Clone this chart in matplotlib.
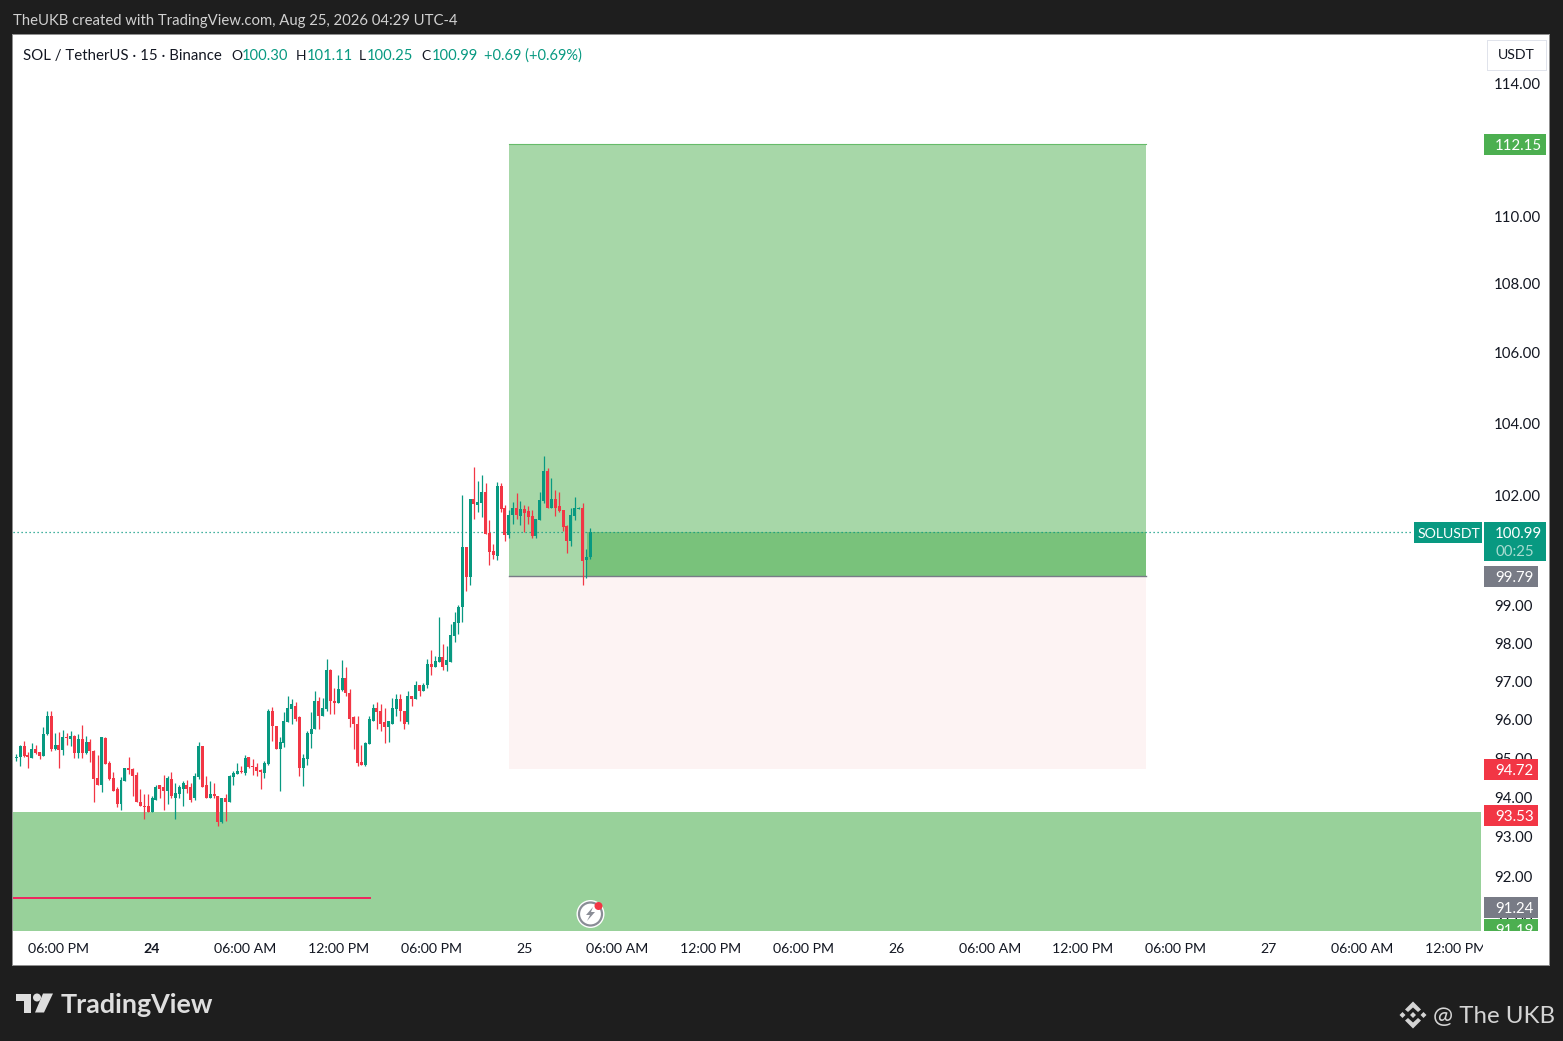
"""SOL/USDT 15m TradingView snapshot with a long position box."""

import matplotlib

matplotlib.use("Agg")

import matplotlib.pyplot as plt
import numpy as np
from matplotlib.patches import Circle, Polygon, Rectangle
from matplotlib.transforms import Bbox, IdentityTransform

WIDTH, HEIGHT = 1563, 1041
FONT = "Lato"

opens = [
    95.01, 95.02, 95.30, 95.06, 95.01, 95.24, 95.16, 95.05, 95.61, 96.10,
    95.24, 95.35, 95.22, 95.55, 95.50, 95.58, 95.14, 95.48, 95.14, 95.42,
    95.19, 94.50, 94.32, 95.53, 94.88, 94.50, 94.20, 93.84, 94.42, 94.75,
    94.73, 94.57, 93.87, 93.77, 93.77, 93.62, 93.94, 94.30, 94.25, 94.17,
    94.47, 93.99, 94.09, 94.22, 94.32, 94.25, 93.97, 94.52, 95.32, 94.30,
    93.99, 94.09, 94.04, 93.36, 93.97, 93.89, 94.51, 94.59, 94.67, 94.61,
    95.03, 94.80, 94.77, 94.69, 94.61, 94.85, 96.23, 95.84, 95.24, 95.40,
    95.92, 96.26, 96.36, 96.05, 94.75, 94.98, 95.63, 95.74, 96.47, 96.08,
    96.26, 97.30, 96.49, 96.42, 96.76, 97.07, 96.70, 96.05, 95.89, 94.90,
    94.82, 95.37, 95.97, 96.29, 96.21, 95.92, 95.79, 95.89, 96.26, 96.52,
    96.21, 95.92, 96.60, 96.52, 96.89, 96.73, 96.89, 97.46, 97.38, 97.49,
    97.64, 97.42, 97.50, 98.18, 98.53, 98.96, 100.57, 99.76, 101.89, 101.72,
    101.78, 102.08, 100.95, 100.46, 100.33, 102.25, 101.64, 100.90, 101.45, 101.66,
    101.42, 101.61, 101.56, 101.42, 100.87, 101.31, 101.83, 102.66, 101.66, 101.89,
    101.69, 101.58, 101.15, 100.74, 101.42, 101.61, 101.66, 100.22, 100.30,
]
highs = [
    95.11, 95.35, 95.45, 95.15, 95.40, 95.35, 95.16, 95.79, 96.21, 96.23,
    95.66, 95.67, 95.73, 95.66, 95.71, 95.60, 95.63, 95.86, 95.58, 95.50,
    95.22, 95.09, 95.55, 95.55, 94.93, 94.65, 94.27, 94.52, 94.75, 95.04,
    94.75, 94.65, 94.22, 94.07, 94.09, 94.04, 94.30, 94.32, 94.57, 94.55,
    94.65, 94.35, 94.32, 94.42, 94.45, 94.35, 94.62, 95.42, 95.32, 94.55,
    94.42, 94.37, 94.04, 93.97, 94.09, 94.57, 94.67, 94.88, 94.80, 95.08,
    95.03, 94.98, 94.88, 94.72, 94.93, 96.28, 96.31, 95.84, 95.54, 96.18,
    96.62, 96.52, 96.44, 96.08, 95.11, 95.69, 96.18, 96.73, 96.57, 96.55,
    97.59, 97.33, 96.83, 97.15, 97.56, 97.38, 96.78, 96.10, 96.10, 95.35,
    95.42, 96.08, 96.39, 96.44, 96.39, 96.29, 95.97, 96.55, 96.65, 96.65,
    96.21, 96.75, 96.60, 96.99, 96.91, 96.96, 97.59, 97.83, 97.67, 98.69,
    97.98, 97.92, 98.50, 98.82, 99.01, 102.00, 100.57, 101.89, 102.78, 102.39,
    102.55, 102.33, 101.31, 100.66, 102.36, 102.33, 101.72, 101.58, 101.80, 102.05,
    101.83, 101.72, 101.69, 101.58, 101.34, 102.08, 103.08, 102.75, 102.47, 102.14,
    102.08, 101.58, 101.17, 101.66, 101.94, 101.67, 101.78, 100.52, 101.11,
]
lows = [
    94.93, 94.81, 95.04, 94.75, 94.99, 95.11, 94.98, 95.05, 95.60, 95.17,
    95.22, 94.75, 95.09, 95.35, 95.30, 94.99, 95.01, 95.01, 95.11, 94.91,
    93.87, 94.32, 94.14, 94.86, 94.45, 94.17, 93.74, 93.67, 94.42, 94.60,
    94.02, 93.87, 93.77, 93.46, 93.62, 93.62, 93.94, 93.97, 93.67, 93.84,
    93.97, 93.46, 93.99, 93.79, 94.12, 93.87, 93.94, 94.47, 94.27, 93.99,
    93.99, 93.99, 93.26, 93.34, 93.41, 93.89, 94.30, 94.59, 94.61, 94.56,
    94.75, 94.56, 94.54, 94.22, 94.48, 94.82, 95.45, 95.24, 94.15, 95.29,
    95.92, 95.87, 95.95, 94.54, 94.28, 94.82, 95.27, 95.74, 95.74, 96.08,
    96.23, 96.15, 96.15, 96.42, 96.73, 96.60, 95.79, 95.24, 94.80, 94.82,
    94.80, 95.37, 95.95, 95.74, 95.71, 95.40, 95.42, 95.87, 96.08, 95.97,
    95.74, 95.87, 96.34, 96.52, 96.60, 96.73, 96.83, 97.17, 97.38, 97.49,
    97.30, 97.27, 97.50, 98.02, 98.24, 98.56, 99.39, 99.55, 101.36, 101.53,
    101.39, 100.93, 100.09, 100.25, 100.22, 101.53, 100.74, 100.84, 101.20, 101.36,
    101.17, 100.98, 101.20, 100.82, 100.82, 101.31, 101.78, 101.66, 101.66, 101.42,
    101.53, 101.01, 100.41, 100.60, 101.31, 101.61, 99.55, 99.73, 100.25,
]
closes = [
    95.04, 95.30, 95.05, 95.04, 95.24, 95.14, 95.05, 95.63, 96.10, 95.24,
    95.35, 95.22, 95.55, 95.51, 95.58, 95.14, 95.48, 95.14, 95.42, 95.17,
    94.47, 94.32, 95.54, 94.86, 94.47, 94.17, 93.84, 94.45, 94.75, 94.70,
    94.55, 93.87, 93.77, 93.74, 93.62, 93.97, 94.27, 94.22, 94.17, 94.50,
    94.02, 94.12, 94.27, 94.35, 94.22, 93.94, 94.55, 95.32, 94.27, 93.99,
    94.09, 94.02, 93.36, 93.97, 93.89, 94.55, 94.61, 94.67, 94.64, 95.01,
    94.77, 94.77, 94.67, 94.64, 94.88, 96.23, 95.82, 95.24, 95.42, 95.97,
    96.29, 96.39, 96.02, 94.75, 95.01, 95.66, 95.76, 96.49, 96.08, 96.29,
    97.30, 96.47, 96.42, 96.78, 97.07, 96.70, 96.02, 95.89, 94.88, 94.82,
    95.40, 96.00, 96.29, 96.18, 95.89, 95.79, 95.95, 96.29, 96.52, 96.21,
    95.89, 96.60, 96.52, 96.89, 96.73, 96.91, 97.46, 97.38, 97.54, 97.64,
    97.38, 97.55, 98.21, 98.56, 98.96, 100.57, 99.76, 101.89, 101.75, 101.80,
    102.08, 100.93, 100.44, 100.36, 102.25, 101.61, 100.90, 101.45, 101.66, 101.45,
    101.61, 101.50, 101.39, 100.87, 101.34, 101.86, 102.66, 101.66, 101.89, 101.66,
    101.56, 101.12, 100.74, 101.45, 101.66, 101.66, 100.19, 100.30, 100.99,
]

price_ticks = [114, 110, 108, 106, 104, 102, 99, 98, 97, 96, 95, 94, 93, 92, 91]
time_positions = [11, 35, 59, 83, 107, 131, 155, 179, 203, 227, 251, 275, 299, 323, 347, 371]
time_labels = [
    "06:00 PM", "24", "06:00 AM", "12:00 PM", "06:00 PM", "25", "06:00 AM", "12:00 PM",
    "06:00 PM", "26", "06:00 AM", "12:00 PM", "06:00 PM", "27", "06:00 AM", "12:00 PM",
]

last_price = 100.99
entry, target, stop = 99.79, 112.15, 94.72
zone_top = 93.62
level_line = 91.47

GREEN = "#089981"
RED = "#f23645"
INK = "#131722"
BG = "#1e1e1e"
SCALE_SIZE = 10.8
TIME_SIZE = 10.2


def frac_rect(x0, y0, x1, y1):
    """Pixel box (top-left origin) to figure fractions."""
    return x0 / WIDTH, 1 - y1 / HEIGHT, (x1 - x0) / WIDTH, (y1 - y0) / HEIGHT


def px_box(fig, x0, y0, x1, y1, color, zorder=5):
    left, bottom, w, h = frac_rect(x0, y0, x1, y1)
    fig.add_artist(Rectangle((left, bottom), w, h, transform=fig.transFigure, fc=color, ec="none", zorder=zorder))


def px_text(fig, x, y, s, color=INK, size=SCALE_SIZE, ha="left", zorder=6, **kwargs):
    # Lato sits a little high with va=center
    return fig.text(x / WIDTH, 1 - (y + 1.7) / HEIGHT, s, color=color, fontsize=size, ha=ha, va="center",
                    family=FONT, zorder=zorder, **kwargs)


def px_poly(fig, pts, color, zorder=6):
    xy = [(x / WIDTH, 1 - y / HEIGHT) for x, y in pts]
    fig.add_artist(Polygon(xy, closed=True, transform=fig.transFigure, fc=color, ec="none", zorder=zorder))


def px_circle(fig, x, y, r, zorder=6, **kwargs):
    # dpi is fixed at 100, so display pixels are image pixels
    fig.add_artist(Circle((x, HEIGHT - y), r, transform=IdentityTransform(), zorder=zorder, **kwargs))


fig = plt.figure(figsize=(WIDTH / 100, HEIGHT / 100), dpi=100, facecolor=BG)
plt.rcParams["font.family"] = FONT

# white panel behind pane, price scale and time scale
px_box(fig, 12, 34, 1550, 966, "#8f8f8f", zorder=-2)
px_box(fig, 13, 35, 1549, 965, "white", zorder=-1)

ax = fig.add_axes(frac_rect(13, 35, 1483, 931))
ax.set_yscale("log")
ax.set_xlim(-0.85, 378.2)
ax.set_ylim(90.66, 115.52)
for spine in ax.spines.values():
    spine.set_visible(False)

# support zone and drawn level
ax.axhspan(90, zone_top, xmax=0.9986, fc="#98d19a", ec="none", zorder=1)
ax.plot([-0.85, 91.2], [level_line, level_line], color="#f0245e", lw=1.4, zorder=2)

# long position tool
box_left, box_right, box_now = 127.05, 291.3, 147.2
ax.fill_between([box_left, box_right], entry, target, fc="#a7d7a8", ec="none", zorder=1)
ax.fill_between([box_left, box_right], stop, entry, fc="#fdf3f3", ec="none", zorder=1)
ax.fill_between([box_now, box_right], entry, last_price, fc="#79c27b", ec="none", zorder=1.5)
ax.plot([box_left, box_right], [target, target], color="#66bb6a", lw=0.8, zorder=2)
ax.plot([box_left, box_right], [entry, entry], color="#787b86", lw=1.0, zorder=2)

# last price line
ax.plot([-0.85, 360], [last_price, last_price], color=GREEN, lw=0.9, ls=(0, (1, 2.2)), zorder=2)

# candles
o, h, l, c = map(np.array, (opens, highs, lows, closes))
x = np.arange(len(o))
colors = np.where(c >= o, GREEN, RED)
ax.vlines(x, l, h, colors=colors, lw=0.9, zorder=3)
ax.bar(x, np.maximum(np.abs(c - o), 0.03), bottom=np.minimum(o, c), width=0.77, color=colors, linewidth=0, zorder=4)

ax.yaxis.tick_right()
ax.set_yticks(price_ticks, [f"{p:.2f}" for p in price_ticks])
ax.set_yticks([], minor=True)
ax.tick_params(axis="y", length=0, pad=8.0, labelsize=SCALE_SIZE, labelcolor=INK)
for label in ax.get_yticklabels():
    label.set_verticalalignment("center_baseline")
ax.set_xticks(time_positions, time_labels)
ax.tick_params(axis="x", length=0, pad=8.5, labelsize=TIME_SIZE, labelcolor=INK)
for label in ax.get_xticklabels():
    label.set_fontfamily(FONT)
    if label.get_text() == "24":
        label.set_fontweight("bold")
clip_px = Bbox.from_extents(13, 0, 1483, HEIGHT)
ax.get_xticklabels()[-1].set_clip_box(clip_px)
ax.get_xticklabels()[-1].set_clip_on(True)

# price scale tags
tags = [
    (target, "#4caf50", "white", 1546),
    (entry, "#787b86", "white", 1538),
    (stop, RED, "white", 1538),
    (93.53, RED, "white", 1538),
    (91.24, "#787b86", "white", 1538),
]
fig.canvas.draw()
for price, face, ink, right in tags:
    y_px = HEIGHT - ax.transData.transform((0, price))[1]
    px_box(fig, 1484, y_px - 10.5, right, y_px + 10.5, face)
    px_text(fig, 1495, y_px, f"{price:.2f}", color=ink)

# half hidden tag at the bottom of the pane
px_box(fig, 1484, 919, 1538, 931, "#4caf50")
cut = px_text(fig, 1495, 929, "91.19", color="white")
cut.set_clip_box(Bbox.from_extents(1484, HEIGHT - 931, 1538, HEIGHT - 919))
cut.set_clip_on(True)

px_box(fig, 1484, 522, 1546, 561, GREEN)
px_text(fig, 1495, 532, "100.99", color="white")
px_text(fig, 1495, 550, "00:25", color="#a8dcd1")
px_box(fig, 1414, 522, 1482, 543, GREEN)
px_text(fig, 1418, 532.5, "SOLUSDT", color="white", size=TIME_SIZE)

# currency button
px_box(fig, 1487, 40, 1547, 71, "#e0e3eb", zorder=4)
px_box(fig, 1488, 41, 1546, 70, "white", zorder=4.5)
px_text(fig, 1516.5, 53.5, "USDT", ha="center", size=TIME_SIZE)

# legend line
px_text(fig, 23, 54, "SOL / TetherUS · 15 · Binance")
for px, letter, value in [(231.5, "O", "100.30"), (296, "H", "101.11"), (359, "L", "100.25"), (421, "C", "100.99")]:
    px_text(fig, px, 54, letter, size=10)
    px_text(fig, px + (8 if letter == "L" else 10.5), 54, value, color=GREEN, size=10.6)
px_text(fig, 484, 54, "+0.69 (+0.69%)", color=GREEN, size=10.5)

# frame texts
px_text(fig, 13, 19, "TheUKB created with TradingView.com, Aug 25, 2026 04:29 UTC-4", color="#d1d1d1", size=10.7)
px_text(fig, 61, 1003, "TradingView", color="#dedede", size=19.4, weight="bold")
px_text(fig, 1433, 1015, "@ The UKB", color="#d4d4d4", size=17.3)

# tradingview mark
px_poly(fig, [(16, 993.5), (31, 993.5), (31, 1012.5), (23.5, 1012.5), (23.5, 1001), (16, 1001)], "#dedede")
px_circle(fig, 37, 997.5, 4, fc="#dedede", ec="none")
px_poly(fig, [(43, 993.5), (53, 993.5), (44, 1012.5), (35, 1012.5)], "#dedede")

# binance style mark
MARK = "#d4d4d4"
px_poly(fig, [(1413, 1001.5), (1421, 1009.5), (1418, 1012), (1413, 1007.5), (1408, 1012), (1405, 1009.5)], MARK)
px_poly(fig, [(1413, 1028.5), (1421, 1020.5), (1418, 1018), (1413, 1022.5), (1408, 1018), (1405, 1020.5)], MARK)
for cx in (1402.5, 1413, 1423.5):
    px_poly(fig, [(cx - 3, 1015), (cx, 1012), (cx + 3, 1015), (cx, 1018)], MARK)

# lightning badge
px_circle(fig, 590.5, 914, 14, fc="white", ec="none", zorder=6)
px_circle(fig, 590.5, 914, 11.5, fc="none", ec="#8a8d96", lw=1.6, zorder=6.1)
px_poly(fig, [(593, 907), (586, 915), (590, 915), (587, 921), (595, 912), (591, 912)], "#8a8d96", zorder=6.2)
px_circle(fig, 598.5, 906, 4, fc=RED, ec="none", zorder=6.3)

fig.savefig("out.png", dpi=100, facecolor=BG)
